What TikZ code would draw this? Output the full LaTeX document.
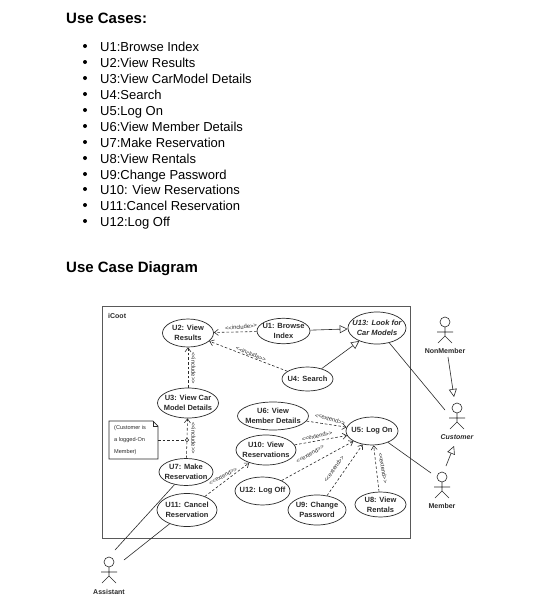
\documentclass[tikz,border=0pt]{standalone}
\usepackage{fontspec}
\setmainfont{Liberation Sans}[Ligatures=NoCommon]
\newfontfamily\plainsans{Liberation Sans}
\usetikzlibrary{shapes.geometric,arrows.meta}
\definecolor{ink}{HTML}{2A2A2A}
\tikzset{
  ucase/.style={ellipse,draw=ink,line width=0.7pt,inner sep=-24pt,align=center,fill=white,
    font=\plainsans\bfseries\fontsize{7.5}{10}\selectfont,text=ink},
  flow/.style={draw=ink,line width=0.6pt,dash pattern=on 2.6pt off 2pt,-{Straight Barb[length=4pt,width=6pt]}},
  gen/.style={draw=ink,line width=0.6pt,-{Triangle[open,length=8pt,width=8pt,fill=white]}},
  assoc/.style={draw=ink,line width=0.6pt},
  stereo/.style={font=\plainsans\fontsize{5.8}{7}\selectfont,text=ink,inner sep=0pt},
  actorname/.style={font=\plainsans\bfseries\fontsize{7}{8}\selectfont,text=ink,inner sep=0pt},
  limb/.style={draw=ink,line width=0.6pt},
  heading/.style={font=\plainsans\bfseries\fontsize{15}{18}\selectfont,anchor=base west,inner sep=0pt,text=black},
  item/.style={font=\plainsans\fontsize{13}{16}\selectfont,anchor=base west,inner sep=0pt,text=black},
  dot/.style={circle,fill=black,inner sep=0pt,minimum size=4pt},
  pics/actor/.style={code={
    \draw[limb] (0,0) circle (5);
    \draw[limb] (0,5) -- (0,14) (-8,10) -- (8,10) (-7,21) -- (0,14) -- (7,21);
  }}
}
\begin{document}
\begin{tikzpicture}[x=1pt,y=-1pt]
\path[use as bounding box,fill=white] (0,0) rectangle (546,603);
\node[heading] (h1) at (66,23) {Use Cases:};
\node[heading] (h2) at (66,272) {Use Case Diagram};
\foreach \n/\y/\t in {1/46/U1:Browse Index,2/62/U2:View Results,3/78/U3:View CarModel Details,4/94/U4:Search,5/110/U5:Log On,6/126/U6:View Member Details,7/142/U7:Make Reservation,8/158/U8:View Rentals,9/174/U9:Change Password,10/189/U10: View Reservations,11/205/U11:Cancel Reservation,12/221/U12:Log Off}{
  \node[dot] (b\n) at (85,\y) {};
  \node[item] (i\n) at (100,\y+5) {\t};
}
% system frame
\node[draw=black!65,line width=1pt,minimum width=308.5pt,minimum height=231.5pt,inner sep=0pt] (frame) at (256.5,422.3) {};
\node[font=\plainsans\bfseries\fontsize{7}{8}\selectfont,anchor=west,inner sep=0pt,text=ink] (title) at (108,315.5) {iCoot};
% use cases
\node[ucase,minimum width=51pt,minimum height=28pt] (u2) at (188,333) {U2: View\\Results};
\node[ucase,minimum width=53pt,minimum height=25.5pt] (u1) at (283.5,331) {U1: Browse\\Index};
\node[ucase,minimum width=58pt,minimum height=32pt,font=\plainsans\bfseries\itshape\fontsize{7.5}{10}\selectfont] (u13) at (377,328) {U13: Look for\\Car Models};
\node[ucase,minimum width=51pt,minimum height=24pt] (u4) at (307.5,379) {U4: Search};
\node[ucase,minimum width=61pt,minimum height=30pt] (u3) at (188,403) {U3: View Car\\Model Details};
\node[ucase,minimum width=71pt,minimum height=28pt] (u6) at (273,416) {U6: View\\Member Details};
\node[ucase,minimum width=52pt,minimum height=28pt] (u5) at (372,431) {U5: Log On};
\node[ucase,minimum width=60pt,minimum height=30pt] (u10) at (266,450) {U10: View\\Reservations};
\node[ucase,minimum width=54pt,minimum height=27pt] (u7) at (186,472) {U7: Make\\Reservation};
\node[ucase,minimum width=60pt,minimum height=33pt] (u11) at (187,510) {U11: Cancel\\Reservation};
\node[ucase,minimum width=55pt,minimum height=28pt] (u12) at (262.5,491) {U12: Log Off};
\node[ucase,minimum width=58pt,minimum height=30pt] (u9) at (317,510) {U9: Change\\Password};
\node[ucase,minimum width=51pt,minimum height=25pt] (u8) at (380.5,504.5) {U8: View\\Rentals};
% note
\draw[draw=ink,line width=0.7pt,fill=white] (109,421) -- (153,421) -- (158,426) -- (158,459) -- (109,459) -- cycle;
\draw[draw=ink,line width=0.5pt] (153,421) -- (153,426) -- (158,426);
\node[font=\plainsans\fontsize{5.6}{12}\selectfont,align=left,inner sep=0pt,anchor=west,text=ink] (note) at (114,440) {(Customer is\\a logged-On\\Member)};
% actors
\pic at (445,322) {actor};
\pic at (457,408) {actor};
\pic at (442,477) {actor};
\pic at (109,562) {actor};
\node[actorname] (nonmember) at (445,351) {NonMember};
\node[actorname,font=\plainsans\bfseries\itshape\fontsize{7}{8}\selectfont] (customer) at (457,437) {Customer};
\node[actorname] (member) at (442,506) {Member};
\node[actorname] (assistant) at (109,592) {Assistant};
\coordinate (custA) at (445,410);
\coordinate (custT) at (454,397);
\coordinate (custB) at (454,446);
\coordinate (nonS) at (448,357);
\coordinate (memS) at (446,466);
\coordinate (memA) at (431,473);
\coordinate (asA) at (115,550);
\coordinate (asB) at (124,560);
\coordinate (noteE) at (158,440);
% generalisations and associations
\draw[gen] (u1) -- (u13);
\draw[gen] (u4) -- (u13);
\draw[gen] (nonS) -- (custT);
\draw[gen] (memS) -- (custB);
\draw[assoc] (u13) -- (custA);
\draw[assoc] (u5) -- (memA);
\draw[assoc] (u7) -- (asA);
\draw[assoc] (u11) -- (asB);
% dependencies
\draw[flow] (u1) -- (u2);
\draw[flow] (u4) -- (u2);
\draw[flow] (u3) -- (u2);
\draw[flow] (u7) -- (u3);
\draw[flow] (u6) -- (u5);
\draw[flow] (u10) -- (u5);
\draw[flow] (u12) -- (u5);
\draw[flow] (u9) -- (u5);
\draw[flow] (u8) -- (u5);
\draw[flow] (u11) -- (u10);
\node[circle,draw=ink,line width=0.5pt,fill=white,inner sep=0pt,minimum size=3.4pt] (cond) at (187,440) {};
\draw[draw=ink,line width=0.6pt,dash pattern=on 2.6pt off 2pt] (noteE) -- (cond);
% stereotypes
\node[stereo,rotate=5] (s1) at (241,327) {<<include>>};
\node[stereo,rotate=-22] (s2) at (251,354) {<<include>>};
\node[stereo,rotate=-90] (s3) at (193.5,368) {<<include>>};
\node[stereo,rotate=-90] (s4) at (193.5,438) {<<include>>};
\node[stereo,rotate=-15] (s5) at (330,419) {<<extend>>};
\node[stereo,rotate=12] (s6) at (317,436) {<<extend>>};
\node[stereo,rotate=30] (s7) at (310,454) {<<extend>>};
\node[stereo,rotate=55] (s8) at (334,469) {<<extend>>};
\node[stereo,rotate=-80] (s9) at (383,468) {<<extend>>};
\node[stereo,rotate=28] (s10) at (223,476) {<<extend>>};
\end{tikzpicture}
\end{document}
